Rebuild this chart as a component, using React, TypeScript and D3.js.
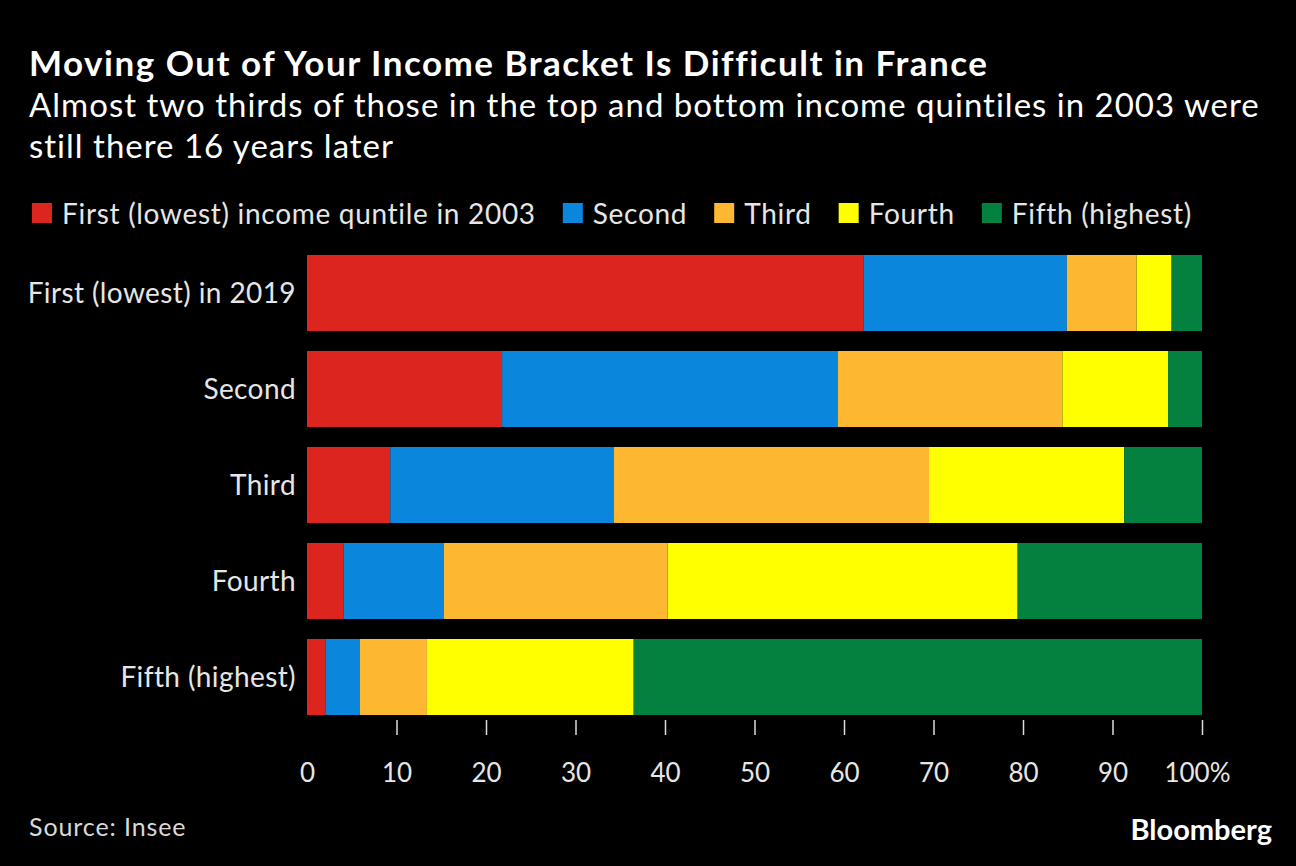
import { useRef, useEffect } from "react";
import * as d3 from "d3";

const categories = ["First (lowest) in 2019", "Second", "Third", "Fourth", "Fifth (highest)"];
const seriesNames = ["First (lowest) income quntile in 2003", "Second", "Third", "Fourth", "Fifth (highest)"];
const colors = ["#dc251f", "#0a87dd", "#fdb731", "#ffff00", "#04813f"];

// share (%) of each 2019 quintile coming from each 2003 quintile
const first2003 = [62.2, 21.8, 9.3, 4.1, 2.1];
const second2003 = [22.7, 37.5, 25.0, 11.2, 3.8];
const third2003 = [7.8, 25.1, 35.2, 25.0, 7.5];
const fourth2003 = [3.9, 11.8, 21.8, 39.1, 23.1];
const fifth2003 = [3.4, 3.8, 8.7, 20.6, 63.5];

const xTicks = [0, 10, 20, 30, 40, 50, 60, 70, 80, 90, 100];

const W = 1296;
const H = 866;
const FONT = "Lato, 'Noto Sans', sans-serif";

export default function App() {
    const svgRef = useRef<SVGSVGElement | null>(null);

    useEffect(() => {
        if (!svgRef.current) return;
        const svg = d3.select(svgRef.current);
        svg.selectAll("*").remove();

        svg.append("rect").attr("width", W).attr("height", H).attr("fill", "#000");

        // titles
        svg.append("text")
            .attr("x", 29).attr("y", 76)
            .attr("fill", "#fff").attr("font-family", FONT)
            .attr("font-weight", 700).attr("font-size", 35)
            .attr("letter-spacing", 1.5)
            .text("Moving Out of Your Income Bracket Is Difficult in France");

        const sub = ["Almost two thirds of those in the top and bottom income quintiles in 2003 were", "still there 16 years later"];
        sub.forEach((s, i) => {
            svg.append("text")
                .attr("x", 29).attr("y", 117 + i * 41)
                .attr("fill", "#fff").attr("font-family", FONT)
                .attr("font-size", 33)
                .attr("letter-spacing", 1)
                .text(s);
        });

        // legend
        let lx = 32;
        const legend = svg.append("g");
        seriesNames.forEach((name, i) => {
            legend.append("rect")
                .attr("x", lx).attr("y", 203)
                .attr("width", 20).attr("height", 20)
                .attr("fill", colors[i]);
            const t = legend.append("text")
                .attr("x", lx + 30).attr("y", 224)
                .attr("fill", "#e6e6e6").attr("font-family", FONT)
                .attr("font-size", 28)
                .attr("letter-spacing", 0.7)
                .text(name);
            const w = (t.node() as SVGTextElement).getComputedTextLength();
            lx += 30 + w + 27;
        });

        const x = d3.scaleLinear().domain([0, 100]).range([307, 1202]);
        const y = d3.scaleBand().domain(categories).range([255, 715]).paddingInner(0.2083).paddingOuter(0);

        const rows = categories.map((c, i) => ({
            category: c,
            s0: first2003[i], s1: second2003[i], s2: third2003[i], s3: fourth2003[i], s4: fifth2003[i],
        }));
        const keys = ["s0", "s1", "s2", "s3", "s4"];
        const stacked = d3.stack<any>().keys(keys)(rows);

        svg.append("g")
            .selectAll("g")
            .data(stacked)
            .join("g")
            .attr("fill", (_d, i) => colors[i])
            .selectAll("rect")
            .data(d => d)
            .join("rect")
            .attr("x", d => x(d[0]))
            .attr("y", d => y(d.data.category)!)
            .attr("width", d => x(Math.min(d[1], 100)) - x(d[0]))
            .attr("height", y.bandwidth());

        // category labels
        svg.append("g")
            .selectAll("text")
            .data(categories)
            .join("text")
            .attr("x", 296)
            .attr("y", d => y(d)! + y.bandwidth() / 2 + 10)
            .attr("text-anchor", "end")
            .attr("fill", "#e6e6e6").attr("font-family", FONT)
            .attr("font-size", 28)
            .attr("letter-spacing", 0.4)
            .text(d => d);

        // x axis
        const axis = svg.append("g")
            .attr("transform", `translate(0,720)`)
            .call(d3.axisBottom(x).tickValues(xTicks).tickSize(15).tickPadding(29)
                .tickFormat(d => (d === 100 ? "100%" : String(d))));
        axis.select(".domain").remove();
        axis.selectAll(".tick line").attr("stroke", "#ddd").attr("stroke-width", 1.5)
            .filter((d: any) => d === 0).remove();
        axis.selectAll(".tick text")
            .attr("fill", "#e6e6e6").attr("font-family", FONT).attr("font-size", 26)
            .attr("dx", (d: any) => (d === 100 ? -5 : 0));

        // footer
        svg.append("text")
            .attr("x", 29).attr("y", 836)
            .attr("fill", "#d9d9d9").attr("font-family", FONT)
            .attr("font-size", 25)
            .attr("letter-spacing", 0.9)
            .text("Source: Insee");
        svg.append("text")
            .attr("x", 1272).attr("y", 840)
            .attr("text-anchor", "end")
            .attr("fill", "#fff").attr("font-family", FONT)
            .attr("font-weight", 700).attr("font-size", 29)
            .text("Bloomberg");
    }, []);

    return (
        <div style={{ position: "absolute", left: 0, top: 0 }}>
            <svg ref={svgRef} width={W} height={H} style={{ display: "block" }} />
        </div>
    );
}
